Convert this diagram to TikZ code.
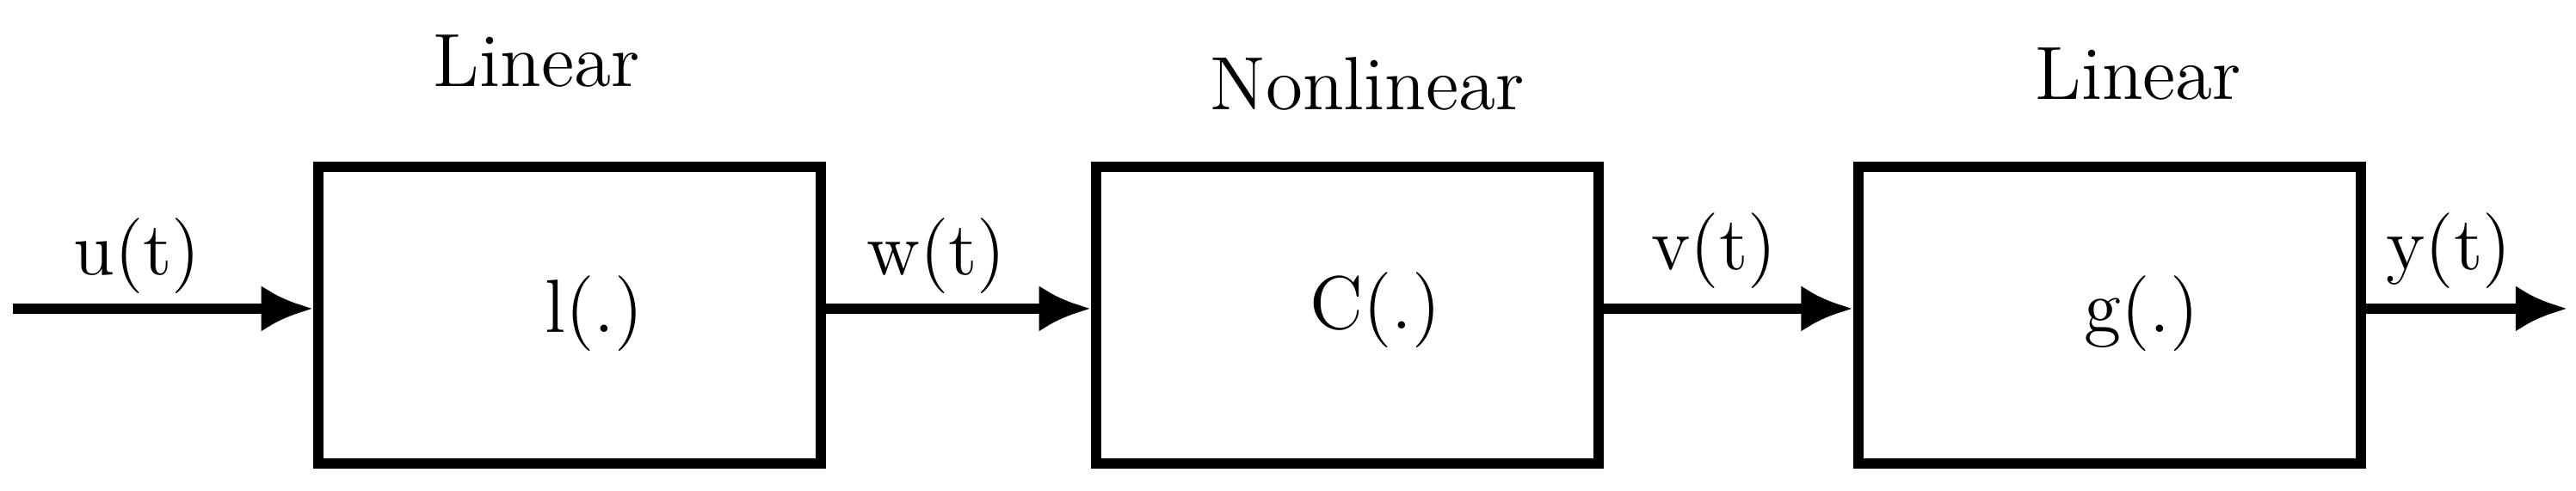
\documentclass[tikz,border=0pt]{standalone}
\usetikzlibrary{arrows.meta}
\begin{document}
\begin{tikzpicture}[x=1cm,y=1cm,
  blk/.style={draw,line width=1.8pt,minimum width=3.04cm,minimum height=1.8cm,inner sep=0pt},
  con/.style={line width=1.8pt,-{Latex[length=9pt,width=8pt]}},
  lbl/.style={font=\fontsize{13}{15}\selectfont}]
\useasboundingbox (0,0) rectangle (15.6,2.97);
\node[blk,lbl] (b1) at (3.45,1.06) {};
\node[blk,lbl] (b2) at (8.16,1.06) {};
\node[blk,lbl] (b3) at (12.775,1.06) {};
\node[lbl] at (3.60,1.07) {l(.)};
\node[lbl] at (8.33,1.09) {C(.)};
\node[lbl] at (12.97,1.07) {g(.)};
\node[lbl] at (3.25,2.60) {Linear};
\node[lbl] at (8.28,2.46) {Nonlinear};
\node[lbl] at (12.95,2.52) {Linear};
\coordinate (in) at (0.08,1.10);
\coordinate (out) at (15.55,1.10);
\draw[con] (in) -- (b1.west |- in);
\draw[con] (b1.east |- in) -- (b2.west |- in);
\draw[con] (b2.east |- in) -- (b3.west |- in);
\draw[con] (b3.east |- in) -- (out);
\node[lbl] at (0.83,1.42) {u(t)};
\node[lbl] at (5.67,1.42) {w(t)};
\node[lbl] at (10.38,1.45) {v(t)};
\node[lbl] at (14.83,1.45) {y(t)};
\end{tikzpicture}
\end{document}
